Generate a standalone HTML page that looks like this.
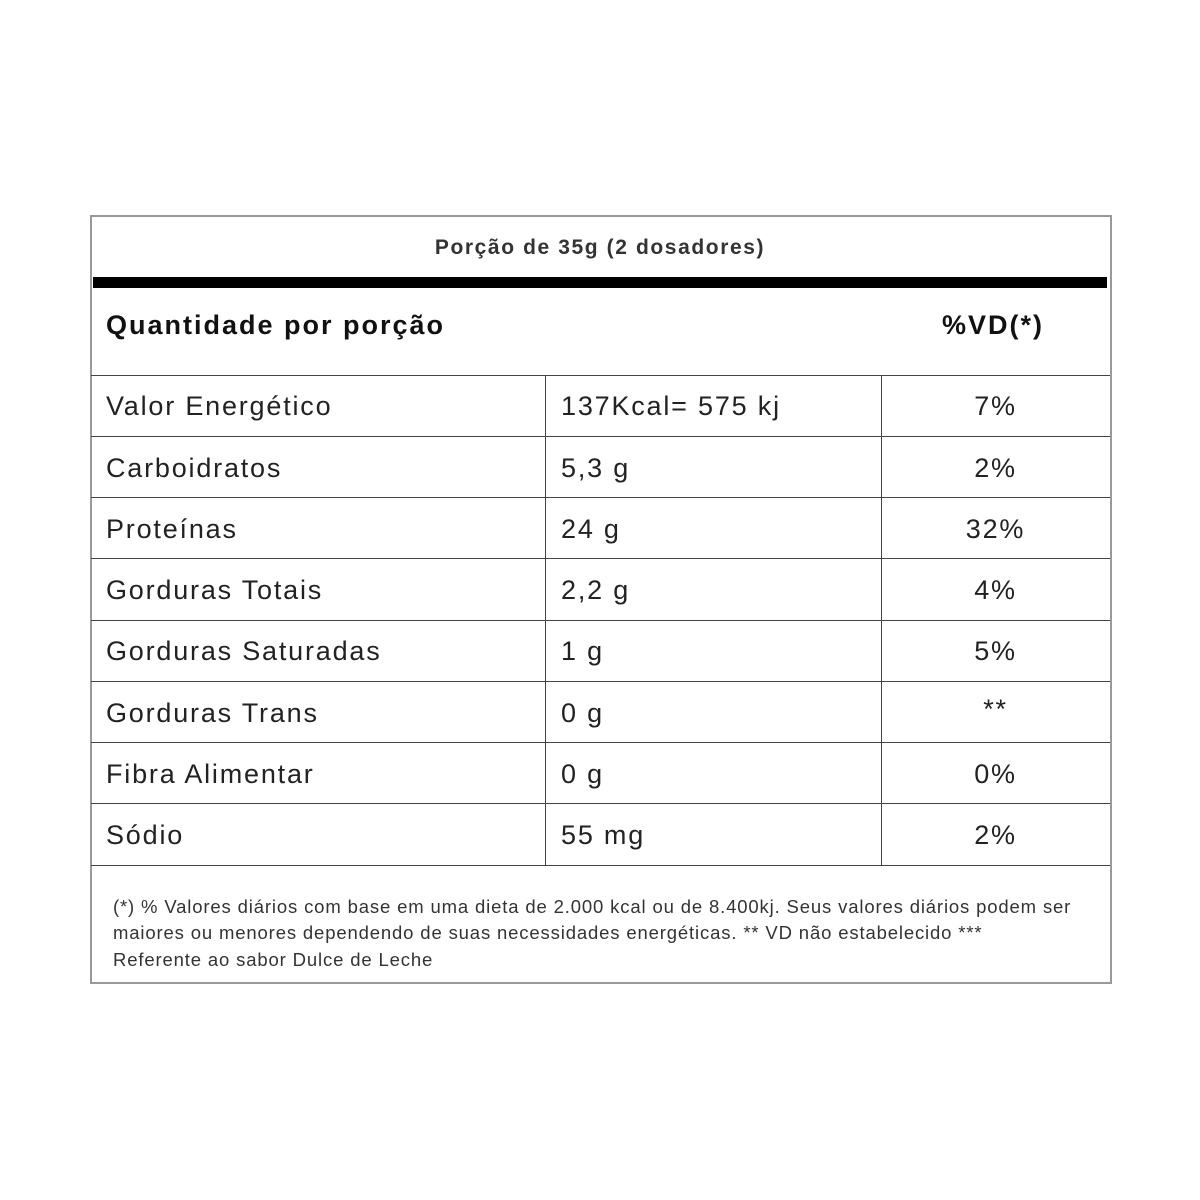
<!DOCTYPE html>
<html><head><meta charset="utf-8"><style>
body{margin:0;background:#fff;width:1200px;height:1200px;position:relative;font-family:"Liberation Sans",sans-serif;color:#222}
div{position:absolute}
.h{height:1px;background:#444;left:91px;width:1019px}
.v{width:1px;background:#444}
.t{font-size:27px;white-space:nowrap;line-height:30px;letter-spacing:1.8px}
.c{text-align:center;width:229px;left:881px}
.f{left:113px;font-size:18.5px;line-height:26.5px;color:#333;white-space:nowrap;letter-spacing:0.85px}
</style></head><body>
<div style="left:90px;top:215px;width:1018px;height:765px;border:2px solid #999"></div>
<div style="left:93px;top:277px;width:1014px;height:11px;background:#000"></div>
<div class="t" style="left:0;width:1200px;text-align:center;top:233px;font-size:21px;font-weight:bold;color:#333;letter-spacing:1.6px">Porção de 35g (2 dosadores)</div>
<div class="t" style="left:106px;top:310px;font-weight:bold;font-size:27px;color:#111;letter-spacing:2px">Quantidade por porção</div>
<div class="t" style="left:942px;top:310px;font-weight:bold;font-size:27px;color:#111;letter-spacing:2px">%VD(*)</div>
<div class="h" style="top:375px"></div>
<div class="h" style="top:436px"></div>
<div class="h" style="top:497px"></div>
<div class="h" style="top:558px"></div>
<div class="h" style="top:620px"></div>
<div class="h" style="top:681px"></div>
<div class="h" style="top:742px"></div>
<div class="h" style="top:803px"></div>
<div class="h" style="top:865px"></div>
<div class="v" style="left:545px;top:375px;height:490px"></div>
<div class="v" style="left:881px;top:375px;height:490px"></div>
<div class="t" style="left:106px;top:391px">Valor Energético</div><div class="t" style="left:561px;top:391px">137Kcal= 575 kj</div><div class="t c" style="top:391px">7%</div>
<div class="t" style="left:106px;top:453px">Carboidratos</div><div class="t" style="left:561px;top:453px">5,3 g</div><div class="t c" style="top:453px">2%</div>
<div class="t" style="left:106px;top:514px">Proteínas</div><div class="t" style="left:561px;top:514px">24 g</div><div class="t c" style="top:514px">32%</div>
<div class="t" style="left:106px;top:575px">Gorduras Totais</div><div class="t" style="left:561px;top:575px">2,2 g</div><div class="t c" style="top:575px">4%</div>
<div class="t" style="left:106px;top:636px">Gorduras Saturadas</div><div class="t" style="left:561px;top:636px">1 g</div><div class="t c" style="top:636px">5%</div>
<div class="t" style="left:106px;top:698px">Gorduras Trans</div><div class="t" style="left:561px;top:698px">0 g</div><div class="t c" style="top:694px">**</div>
<div class="t" style="left:106px;top:759px">Fibra Alimentar</div><div class="t" style="left:561px;top:759px">0 g</div><div class="t c" style="top:759px">0%</div>
<div class="t" style="left:106px;top:820px">Sódio</div><div class="t" style="left:561px;top:820px">55 mg</div><div class="t c" style="top:820px">2%</div>
<div class="f" style="top:894px">(*) % Valores diários com base em uma dieta de 2.000 kcal ou de 8.400kj. Seus valores diários podem ser</div>
<div class="f" style="top:920px">maiores ou menores dependendo de suas necessidades energéticas. ** VD não estabelecido ***</div>
<div class="f" style="top:947px">Referente ao sabor Dulce de Leche</div>
</body></html>
